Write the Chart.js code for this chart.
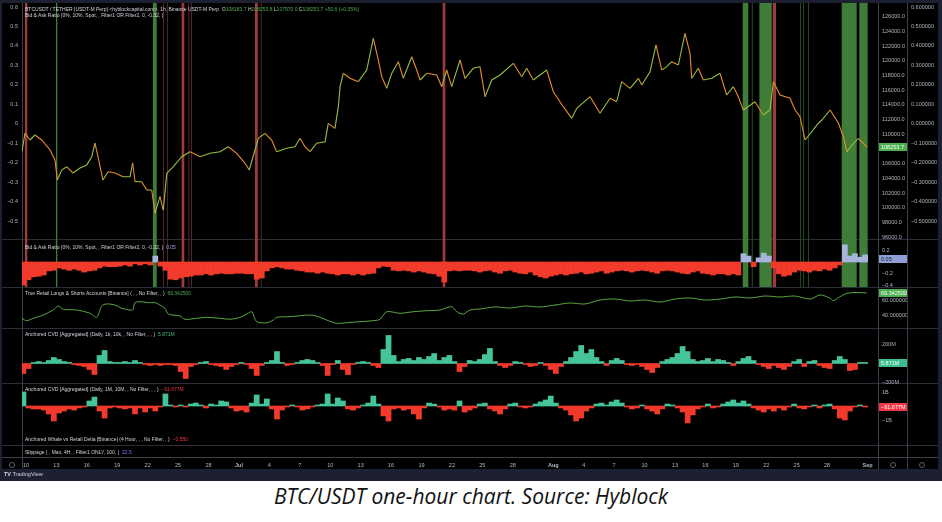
<!DOCTYPE html>
<html><head><meta charset="utf-8">
<script src="https://cdn.jsdelivr.net/npm/chart.js@4.4.1/dist/chart.umd.min.js"></script>
<style>
html,body{margin:0;padding:0;background:#fff;}
#wrap{position:relative;width:942px;height:522px;background:#fff;overflow:hidden;}
#frame{position:absolute;left:0;top:0;width:942px;height:481px;background:#1c2030;}
#black{position:absolute;left:2px;top:3px;width:936px;height:466px;background:#000;}
.hl{position:absolute;height:1px;background:#2a2e39;left:2px;width:936px;}
.vl{position:absolute;width:1px;background:#3d404a;top:3px;height:466px;}
canvas{position:absolute;left:0;}
.lg{position:absolute;left:25px;font:5px 'Liberation Sans',Arial,sans-serif;color:#d1d4dc;white-space:nowrap;line-height:6px;}
.ic{position:absolute;width:6px;height:6px;border:1px solid #5d606b;border-radius:50%;box-sizing:border-box;}
#tv{position:absolute;left:4px;top:471px;font:5.5px 'Liberation Sans',Arial,sans-serif;color:#d1d4dc;white-space:nowrap;}
#cap{position:absolute;left:0;width:942px;top:482px;text-align:center;font:italic 21px 'Open Sans',sans-serif;color:#111;}
</style></head>
<body>
<div id="wrap">
  <div id="frame"></div>
  <div id="black"></div>
  <div class="hl" style="top:239px"></div>
  <div class="hl" style="top:287px"></div>
  <div class="hl" style="top:328px"></div>
  <div class="hl" style="top:383px"></div>
  <div class="hl" style="top:445px"></div>
  <div class="hl" style="top:457px;background:#3d404a"></div>
  <div class="vl" style="left:22px"></div>
  <div class="vl" style="left:878px"></div>
  <div class="vl" style="left:907px"></div>

  <canvas id="c1" width="942" height="244" style="top:0px"></canvas>
  <canvas id="c2" width="942" height="57" style="top:235px"></canvas>
  <canvas id="c3" width="942" height="50" style="top:283px"></canvas>
  <canvas id="c4" width="942" height="64" style="top:324px"></canvas>
  <canvas id="c5" width="942" height="58" style="top:379px"></canvas>
  <canvas id="c6" width="942" height="42" style="top:428px"></canvas>

  <div class="lg" style="top:6px">BTCUSDT / TETHER [USDT-M Perp] &lt;hyblockcapital.com&gt;, 1h, Binance USDT-M Perp&nbsp; O<span style="color:#4caf50">108183.7</span> H<span style="color:#4caf50">108253.8</span> L<span style="color:#4caf50">107970.0</span> C<span style="color:#4caf50">108253.7 +50.6 (+0.05%)</span></div>
  <div class="lg" style="top:12px">Bid &amp; Ask Ratio (0%, 10%, Spot, , Filter1 OR Filter2, 0, -0.32, )</div>
  <div class="lg" style="top:244px">Bid &amp; Ask Ratio (0%, 10%, Spot, , Filter1 OR Filter2, 0, -0.32, )&nbsp; <span style="color:#9aa9dd">0.05</span></div>
  <div class="lg" style="top:290px">True Retail Longs &amp; Shorts Accounts [Binance] ( , , No Filter, , )&nbsp; <span style="color:#4caf50">69.342500</span></div>
  <div class="lg" style="top:331px">Anchored CVD [Aggregated] (Daily, 1k, 10k, , No Filter, , , )&nbsp; <span style="color:#3bbf8e">5.871M</span></div>
  <div class="lg" style="top:386px">Anchored CVD [Aggregated] (Daily, 1M, 10M, , No Filter, , , )&nbsp; <span style="color:#f23645">−91.677M</span></div>
  <div class="lg" style="top:436px">Anchored Whale vs Retail Delta [Binance] (4 Hour, , , No Filter, , )&nbsp; <span style="color:#f23645">−0.550</span></div>
  <div class="lg" style="top:449px">Slippage ( , Max, 4H, , Filter1 ONLY, 100, )&nbsp; <span style="color:#7b7bf0">22.5</span></div>

  <div class="ic" style="left:9px;top:462px"></div>
  <div class="ic" style="left:890px;top:462px"></div>
  <div class="ic" style="left:919px;top:462px"></div>
  <div id="tv"><b>TV</b> TradingView</div>
  <div id="cap">BTC/USDT one-hour chart. Source: Hyblock</div>
</div>
<script>
// ---------- DATA (x = day number, Jun 1 = 0) ----------
const tickDays   = [9,12,15,18,21,24,27,30,33,36,39,42,45,48,51,54,57,61,64,67,70,73,76,79,82,85,88,92];
const tickLabels = ['10','13','16','19','22','25','28','Jul','4','7','10','13','16','19','22','25','28','Aug','4','7','10','13','16','19','22','25','28','Sep'];
const priceTicks = [96000,98000,100000,102000,104000,106000,108000,110000,112000,114000,116000,118000,120000,122000,124000,126000];
const ratioTicks = [0.6,0.5,0.4,0.3,0.2,0.1,0,-0.1,-0.2,-0.3,-0.4,-0.5];

const priceDays = [8.6,8.9,9.39,9.89,10.55,11.37,11.86,12.09,12.52,13.01,13.64,14.33,14.99,15.48,15.8,16.1,16.59,17.09,17.78,18.57,19.26,19.52,19.75,20.41,20.9,21.4,21.72,22.21,22.54,22.88,23.53,24.36,25.17,26.16,27.15,28.13,28.95,29.78,30.6,31.02,31.58,31.91,32.57,33.23,33.72,34.71,35.53,36.02,36.51,37.01,37.67,38.49,38.81,39.47,39.8,39.97,40.29,40.95,41.77,42.6,43.25,43.74,44.08,44.57,45.07,45.72,46.21,47.04,47.53,47.86,48.52,49.5,50.0,50.49,50.98,51.8,52.29,53.11,53.77,54.27,54.93,55.75,57.06,57.89,58.38,59.03,60.35,61.0,61.99,62.82,63.31,64.63,65.61,66.6,67.25,67.75,68.57,69.39,69.72,70.54,71.13,71.69,72.19,72.68,73.33,73.99,74.48,74.65,75.3,75.79,76.62,77.44,78.1,78.76,79.25,79.74,80.89,81.71,82.37,82.7,83.36,84.35,84.84,85.33,85.83,86.49,86.98,87.48,88.3,89.12,89.61,89.95,90.6,91.1,91.59,91.93];
const priceValues = [107640,110170,109230,109910,109230,107870,106510,103800,105150,105600,104740,105420,105830,106960,108820,106960,103790,104920,104740,104240,104240,106100,103560,103560,102430,102430,99300,101520,99710,104700,105600,106960,107640,106960,107420,107640,108320,107420,106060,105150,107870,109460,110140,109230,107640,108100,108320,109460,108320,107640,108800,109000,111500,110820,113760,116480,118300,117620,117160,118750,123060,120110,117840,116260,118300,119880,117620,120560,118750,117390,118300,118070,116480,118750,116480,120110,117620,118980,119200,115120,117390,118070,119660,117840,118980,117390,118750,115800,113760,112180,113540,115120,112860,114900,114440,117160,116260,117620,116710,118520,122150,118750,119200,119880,119430,123740,121020,117620,118980,117390,117620,118300,115350,116480,115120,113310,114440,112630,113310,117160,115350,114900,113310,112400,109230,110360,111260,111950,113310,111500,109680,107640,108780,109460,108780,108253.7];

// signal highlight bands (days)
const signalStart    = [8.90,11.96,21.52,22.51,22.90,24.35,25.00,25.27,31.58,32.15,50.09,79.68,80.57,81.32,82.64,85.33,85.63,86.12,89.44,91.18];
const signalEnd      = [9.13,12.09,21.89,22.60,23.00,24.61,25.10,25.37,31.85,32.25,50.35,80.23,80.67,82.54,82.96,85.43,85.73,86.22,90.92,92.00];
const signalSide     = ['ask','bid','bid','ask','ask','ask','ask','ask','ask','ask','ask','bid','bid','bid','ask','bid','bid','bid','bid','bid'];
const signalStrength = ['s','s','s','w','w','s','w','w','s','w','s','s','w','s','s','w','w','w','s','s'];

// half-day histogram buckets
const binStartDay = 8.75, binCount = 167;
const binDays = Array.from({length: binCount}, (_, i) => binStartDay + 0.5 * i);

const bidAskRatio = [
-0.39,-0.30,-0.25,-0.24,-0.22,-0.15,-0.14,-0.10,-0.12,-0.14,
-0.12,-0.14,-0.17,-0.15,-0.14,-0.10,-0.07,-0.08,-0.08,-0.07,
-0.05,-0.07,-0.03,-0.05,-0.03,-0.05,0.10,-0.07,-0.14,-0.29,
-0.30,-0.27,-0.25,-0.24,-0.22,-0.22,-0.20,-0.22,-0.20,-0.19,
-0.20,-0.20,-0.19,-0.19,-0.20,-0.20,-0.29,-0.27,-0.15,-0.10,
-0.08,-0.10,-0.12,-0.12,-0.14,-0.15,-0.17,-0.17,-0.19,-0.17,
-0.19,-0.20,-0.22,-0.20,-0.20,-0.22,-0.20,-0.22,-0.20,-0.19,
-0.10,-0.07,-0.08,-0.14,-0.15,-0.14,-0.15,-0.17,-0.15,-0.17,
-0.19,-0.20,-0.24,-0.34,-0.15,-0.14,-0.15,-0.14,
-0.14,-0.15,-0.17,-0.15,-0.14,-0.17,-0.19,-0.15,-0.14,-0.17,
-0.19,-0.20,-0.17,-0.22,-0.25,-0.27,-0.24,-0.22,-0.20,-0.22,
-0.20,-0.19,-0.17,-0.20,-0.19,-0.17,-0.15,-0.19,-0.17,-0.15,
-0.14,-0.15,-0.17,-0.15,-0.14,-0.15,-0.17,-0.19,-0.15,-0.14,
-0.15,-0.17,-0.19,-0.20,-0.17,-0.15,-0.19,-0.20,-0.22,-0.20,
-0.20,-0.22,-0.20,
-0.22,0.14,0.10,-0.08,0.07,0.15,0.10,-0.10,-0.20,-0.24,
-0.22,-0.17,-0.14,-0.15,-0.17,-0.14,-0.15,-0.12,-0.14,-0.10,
-0.05,0.29,0.10,0.14,0.08,0.12];

const retailDays = [8.58,9.07,9.72,10.71,11.69,12.19,12.68,14.0,15.31,15.97,16.47,16.96,17.78,18.44,18.93,19.52,19.75,20.41,21.06,21.72,22.21,22.71,23.03,24.19,24.68,25.83,26.82,28.13,29.12,30.10,30.92,31.26,31.75,32.74,33.39,33.72,35.04,37.01,37.99,38.81,39.64,40.63,41.94,43.25,43.91,44.57,45.88,47.19,48.52,49.83,50.98,51.48,52.13,52.79,53.77,55.25,56.73,58.21,59.69,61.17,62.65,64.13,65.61,67.09,68.57,70.05,71.53,73.0,74.48,75.96,77.44,78.92,80.40,81.88,83.36,84.84,86.32,87.31,88.30,88.59,89.28,89.94,90.86,91.91];
const retailValues = [35.6,32.4,35.6,40.0,46.7,52.0,47.6,46.7,42.3,36.9,52.0,54.7,53.3,48.9,47.6,46.7,56.4,57.7,56.4,56.4,53.3,48.9,41.3,38.7,34.3,35.6,36.9,35.6,34.3,36.9,42.3,44.4,31.1,29.7,33.3,36.9,37.7,40.0,36.9,32.4,28.9,29.7,31.1,32.4,34.3,44.4,42.3,44.4,45.7,46.7,51.1,44.4,41.3,46.7,48.0,50.7,49.3,52.0,50.7,53.3,56.0,54.7,60.0,61.3,58.7,60.0,57.3,61.3,62.7,60.0,61.3,64.0,62.7,65.3,64.0,65.3,61.3,66.7,62.3,59.0,64.4,68.9,70.0,69.3425];

// Anchored CVD 1k-10k (millions USD)
const cvdSmallM = [-107,-54,11,21,11,32,64,43,21,11,
-11,-21,-32,-64,-118,86,139,21,11,11,
21,11,32,11,-11,-21,-11,-21,-11,-11,
-21,-86,-161,-32,-11,11,21,-11,-21,-32,
-64,-32,-11,11,-11,-54,-128,-21,11,32,
128,11,-21,-11,11,32,43,32,11,-21,
-128,-11,32,-64,-118,-11,11,21,11,-21,
-43,150,300,86,21,43,54,32,64,43,
75,107,32,64,86,21,-86,-32,32,21,
43,96,161,21,-21,-43,-21,21,11,-11,
-32,-21,11,-21,-64,-107,-32,21,64,128,
193,107,150,64,21,-21,32,54,32,-11,
-21,-11,-32,-64,-96,-43,21,43,64,107,
182,128,43,21,32,54,21,43,32,11,
-21,21,54,75,32,-11,-32,-54,-21,-43,
-64,-32,21,43,-32,21,32,-21,-43,-54,
32,75,43,-75,-64,11,11];

// Anchored CVD 1M-10M (billions USD)
const cvdLargeB = [1.00,-0.14,-0.21,-0.21,-0.29,-0.57,-1.07,-0.50,-0.36,-0.21,
-0.29,-0.14,-0.07,0.36,0.64,-0.36,-0.86,-0.14,-0.07,-0.14,
-0.21,-0.14,-0.57,-0.14,-0.43,-0.14,-0.36,-0.07,0.86,0.07,
-0.07,0.07,-0.07,0.14,0.21,0.07,-0.14,0.14,0.07,0.36,
0.29,-0.14,-0.36,-0.29,-0.43,0.21,0.79,0.14,0.50,-0.21,
-0.93,-0.29,-0.07,0.07,-0.07,-0.29,-0.21,-0.07,0.07,0.14,
0.86,0.14,0.57,0.36,-0.21,-0.29,-0.14,0.07,0.21,0.71,
0.14,-0.71,-1.07,-0.21,-0.14,-0.29,-0.21,-0.57,-0.93,-0.14,
0.21,0.14,-0.07,-0.29,-0.21,-0.29,0.36,-0.43,-0.29,-0.14,
0.14,0.21,-0.21,-0.36,-0.57,-0.21,0.14,0.21,-0.07,-0.14,
-0.07,0.14,0.29,0.43,0.71,0.21,-0.14,-0.29,-0.64,-1.07,
-0.86,-0.36,-0.14,0.14,0.21,0.07,0.29,0.43,0.21,-0.07,
-0.21,-0.14,0.07,-0.21,-0.36,-0.57,-0.21,0.14,0.07,-0.14,
-0.43,-1.21,-0.64,-0.21,-0.07,0.14,-0.14,-0.07,0.14,0.29,
0.43,0.21,0.36,0.14,-0.14,-0.29,-0.43,-0.21,-0.36,-0.14,
-0.29,-0.07,0.14,-0.14,-0.21,-0.07,0.07,-0.14,0.07,0.14,
-0.21,-0.86,-1.00,-0.36,-0.07,0.07,-0.07];

// ---------- STYLE ----------
const X_MIN = 8.606, X_MAX = 93.02;
const TXT = '#b2b5be';
const FONT = 5.5;
const UP = '#93c043', DOWN = '#ec8a2c';
const SIGNAL_COLORS = {bid_s:'#3e7c38', bid_w:'#234a22', ask_s:'#a3393b', ask_w:'#55232a'};
Chart.defaults.font.family = "'Liberation Sans', Arial, sans-serif";
Chart.defaults.font.size = FONT;
Chart.defaults.color = TXT;

const minus = s => s.replace('-', '−');
const fmtRatio = v => v === 0 ? '0' : minus(v.toFixed(1));

const bandsPlugin = {
  id: 'bands',
  beforeDatasetsDraw(chart, args, opts) {
    const {ctx, chartArea: a, scales: {x}} = chart;
    const t = a.top - (opts.extTop || 0), b = a.bottom + (opts.extBottom || 0);
    ctx.save();
    signalStart.forEach((s, i) => {
      const x0 = x.getPixelForValue(s), x1 = x.getPixelForValue(signalEnd[i]);
      ctx.fillStyle = SIGNAL_COLORS[signalSide[i] + '_' + signalStrength[i]];
      ctx.fillRect(x0, t, Math.max(1, x1 - x0), b - t);
    });
    ctx.restore();
  }
};
const lastBoxPlugin = {
  id: 'lastBox',
  afterDraw(chart, args, opts) {
    if (!opts.items) return;
    const c = chart.ctx;
    c.save();
    opts.items.forEach(it => {
      const s = chart.scales[it.axis];
      const y = Math.round(s.getPixelForValue(it.value));
      c.fillStyle = it.bg;
      c.fillRect(s.left + 1, y - 4, 28, 8);
      c.fillStyle = it.fg;
      c.font = FONT + "px 'Liberation Sans', Arial, sans-serif";
      c.textBaseline = 'middle'; c.textAlign = 'left';
      c.fillText(it.text, s.left + 3, y + 0.5);
    });
    c.restore();
  }
};

function yAxis(pos, min, max, width, ticks, fmt) {
  return {
    position: pos, min, max,
    grid: {display: false, drawTicks: false}, border: {display: false},
    afterFit: s => { s.width = width; s.paddingTop = 0; s.paddingBottom = 0; },
    afterBuildTicks: s => { s.ticks = ticks.map(v => ({value: v})); },
    ticks: {padding: 4, autoSkip: false, color: TXT, font: {size: FONT}, callback: v => fmt(v)}
  };
}
const xHidden = {type: 'linear', min: X_MIN, max: X_MAX, display: false, offset: false};
const common = {responsive: false, animation: false, events: []};
const noPlug = {legend: {display: false}, tooltip: {enabled: false}};
const barDS = (vals, pos, neg) => ({
  type: 'bar', yAxisID: 'y',
  data: binDays.map((d, i) => ({x: d, y: vals[i]})),
  backgroundColor: c => ((c.raw && c.raw.y) || 0) >= 0 ? pos : neg,
  barPercentage: 1, categoryPercentage: 1, borderWidth: 0
});

// Pane 1: price + bid/ask ratio scale
const lastPrice = priceValues[priceValues.length - 1];
new Chart(document.getElementById('c1'), {
  type: 'line',
  data: {datasets: [{
    data: priceDays.map((d, i) => ({x: d, y: priceValues[i]})),
    yAxisID: 'yP', borderWidth: 1.1, pointRadius: 0, tension: 0, borderColor: DOWN,
    segment: {borderColor: c => c.p1.parsed.y >= c.p0.parsed.y ? UP : DOWN}
  }]},
  options: {...common,
    layout: {autoPadding: false, padding: {left: 0, right: 4, top: 3, bottom: 5}},
    plugins: {...noPlug, bands: {},
      lastBox: {items: [{axis: 'yP', value: lastPrice, text: lastPrice.toFixed(1), bg: '#4caf50', fg: '#ffffff'}]}},
    scales: {
      x: xHidden,
      yL: yAxis('left', -0.5925, 0.6206, 22, ratioTicks, fmtRatio),
      yP: yAxis('right', 95770, 127860, 29, priceTicks, v => v.toFixed(1)),
      yR: yAxis('right', -0.5925, 0.6206, 31, ratioTicks, v => minus(v.toFixed(6)))
    }
  },
  plugins: [bandsPlugin, lastBoxPlugin]
});

// Pane 2: bid & ask ratio histogram
new Chart(document.getElementById('c2'), {
  type: 'bar',
  data: {datasets: [barDS(bidAskRatio, '#a7b5dd', '#f23b2b')]},
  options: {...common,
    layout: {autoPadding: false, padding: {left: 22, right: 35, top: 5, bottom: 5}},
    plugins: {...noPlug, bands: {extTop: 1},
      lastBox: {items: [{axis: 'y', value: 0.05, text: '0.05', bg: '#8f9fd6', fg: '#131722'}]}},
    scales: {x: xHidden, y: yAxis('right', -0.422, 0.371, 29, [0.2, -0.2, -0.4], v => minus(v.toFixed(1)))}
  },
  plugins: [bandsPlugin, lastBoxPlugin]
});

// Pane 3: true retail longs & shorts
const lastRetail = retailValues[retailValues.length - 1];
new Chart(document.getElementById('c3'), {
  type: 'line',
  data: {datasets: [{
    data: retailDays.map((d, i) => ({x: d, y: retailValues[i]})),
    yAxisID: 'y', borderColor: '#5aa83e', borderWidth: 1, pointRadius: 0, tension: 0.3
  }]},
  options: {...common,
    layout: {autoPadding: false, padding: {left: 22, right: 35, top: 5, bottom: 5}},
    plugins: {...noPlug,
      lastBox: {items: [{axis: 'y', value: lastRetail, text: lastRetail.toFixed(6), bg: '#4caf50', fg: '#ffffff'}]}},
    scales: {x: xHidden, y: yAxis('right', 22.67, 76.0, 29, [60, 40], v => v.toFixed(6))}
  },
  plugins: [lastBoxPlugin]
});

// Pane 4: anchored CVD 1k-10k
new Chart(document.getElementById('c4'), {
  type: 'bar',
  data: {datasets: [barDS(cvdSmallM, '#45c49a', '#f2392c')]},
  options: {...common,
    layout: {autoPadding: false, padding: {left: 22, right: 35, top: 5, bottom: 5}},
    plugins: {...noPlug,
      lastBox: {items: [{axis: 'y', value: 5.871, text: '5.871M', bg: '#3bbf8e', fg: '#ffffff'}]}},
    scales: {x: xHidden, y: yAxis('right', -208.7, 369, 29, [200, -200], v => minus(v + 'M'))}
  },
  plugins: [lastBoxPlugin]
});

// Pane 5: anchored CVD 1M-10M
new Chart(document.getElementById('c5'), {
  type: 'bar',
  data: {datasets: [barDS(cvdLargeB, '#45c49a', '#f2392c')]},
  options: {...common,
    layout: {autoPadding: false, padding: {left: 22, right: 35, top: 5, bottom: 5}},
    plugins: {...noPlug,
      lastBox: {items: [{axis: 'y', value: -0.0917, text: '−91.677M', bg: '#f23645', fg: '#ffffff'}]}},
    scales: {x: xHidden, y: yAxis('right', -1.857, 1.571, 29, [1, -1], v => minus(v + 'B'))}
  },
  plugins: [lastBoxPlugin]
});

// Pane 6: whale / slippage (labels only) + time axis
new Chart(document.getElementById('c6'), {
  type: 'line',
  data: {datasets: []},
  options: {...common,
    layout: {autoPadding: false, padding: {left: 22, right: 64, top: 5, bottom: 0}},
    plugins: noPlug,
    scales: {
      x: {type: 'linear', min: X_MIN, max: X_MAX, position: 'bottom', offset: false,
        grid: {display: false, drawTicks: false}, border: {display: false},
        afterFit: s => { s.height = 13; s.paddingLeft = 0; s.paddingRight = 0; },
        afterBuildTicks: s => { s.ticks = tickDays.map(v => ({value: v})); },
        ticks: {padding: 5, autoSkip: false, maxRotation: 0, minRotation: 0, color: TXT,
          font: c => ({size: FONT, weight: ['Jul', 'Aug', 'Sep'].includes(tickLabels[c.index]) ? 'bold' : 'normal'}),
          callback: (v, i) => tickLabels[i]}
      },
      y: {display: false, min: 0, max: 1}
    }
  }
});
</script>
</body></html>
